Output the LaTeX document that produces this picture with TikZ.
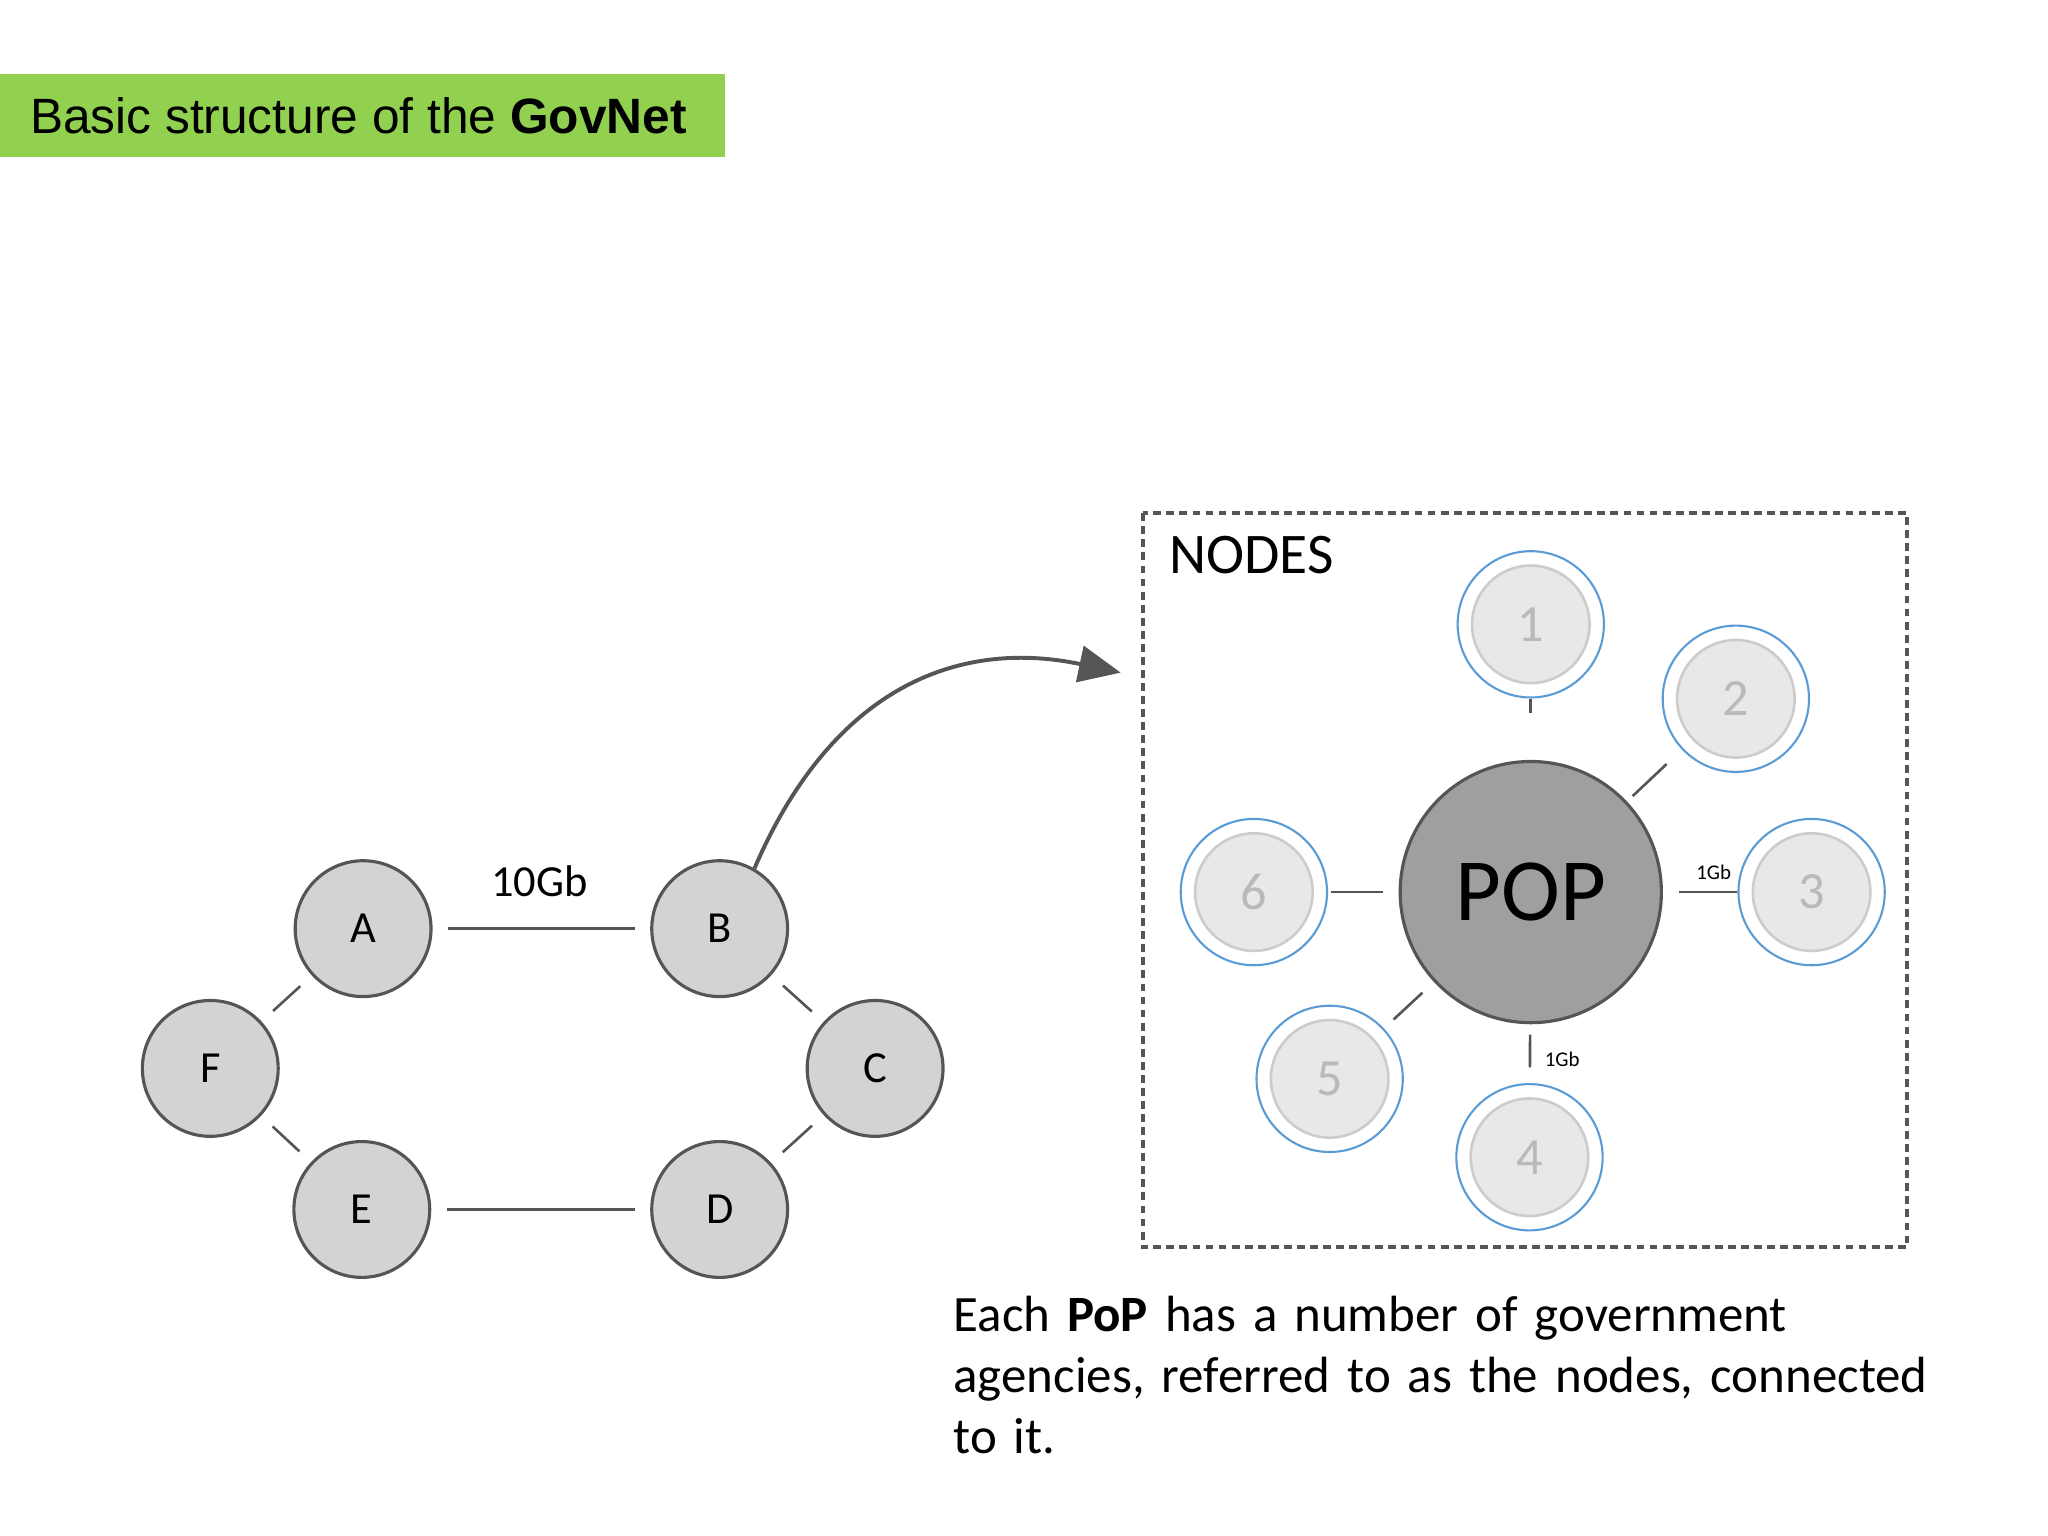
\documentclass[tikz,border=0pt]{standalone}
\usepackage{fontspec}
\setmainfont{Carlito}
\newfontfamily\titlefont{Liberation Sans}
\usetikzlibrary{arrows.meta}
\definecolor{ttl}{HTML}{92D050}
\definecolor{ringfill}{HTML}{D1D3D4}
\definecolor{dark}{HTML}{555555}
\definecolor{blu}{HTML}{5B9BD5}
\begin{document}
\begin{tikzpicture}[x=0.5pt,y=-0.5pt,
 ring/.style={circle,draw=dark,line width=1.2pt,fill=ringfill,minimum size=52pt,inner sep=0pt,font=\fontsize{17}{17}\selectfont},
 link/.style={draw=dark,line width=1pt,shorten >=6pt,shorten <=6pt},
 sat/.style={circle,draw=blu,line width=0.8pt,minimum size=56pt,inner sep=0pt},
 satin/.style={circle,draw=gray!40,line width=1pt,fill=gray!18,minimum size=45pt,inner sep=0pt,text=gray!55,font=\fontsize{20}{20}\selectfont},
 spoke/.style={draw=dark,line width=1pt,shorten >=3pt,shorten <=3pt},
 small/.style={font=\fontsize{8}{8}\selectfont}]
\useasboundingbox[fill=white] (0,0) rectangle (1568,1176);
\fill[ttl] (0,57) rectangle (555,120);
\node[anchor=west,font=\titlefont\fontsize{19}{19}\selectfont] (title) at (16,89) {Basic structure of the \textbf{GovNet}};
% ring
\node[ring] (A) at (278,711) {A};
\node[ring] (B) at (551,711) {B};
\node[ring] (C) at (670,818) {C};
\node[ring] (D) at (551,926) {D};
\node[ring] (E) at (277,926) {E};
\node[ring] (F) at (161,818) {F};
\draw[link] (A) -- (B);
\draw[link] (E) -- (D);
\draw[link] (F) -- (A);
\draw[link] (B) -- (C);
\draw[link] (C) -- (D);
\draw[link] (F) -- (E);
\node[font=\fontsize{17}{17}\selectfont] (g10) at (413,675) {10Gb};
% arrow
\coordinate (arrend) at (858,515);
\draw[dark,line width=1.5pt,-{Triangle[length=16pt,width=14pt]}] (B.60) .. controls (640,520) and (740,490) .. (arrend);
% box
\draw[dark,line width=1.5pt,dash pattern=on 3pt off 2pt] (875,393) rectangle (1460,955);
\node[anchor=west,font=\fontsize{22}{22}\selectfont] (nodes) at (888,425) {NODES};
% POP
\node[circle,draw=dark,line width=1.2pt,fill=gray!75!white,minimum size=100pt,inner sep=0pt,font=\fontsize{34}{34}\selectfont] (pop) at (1172,683) {POP};
\foreach \n/\x/\y in {1/1172/478,2/1329/535,3/1387/683,4/1171/886,5/1018/826,6/960/683}{
 \node[sat] (s\n) at (\x,\y) {};
 \node[satin] (i\n) at (\x,\y) {\n};
}
\draw[spoke,shorten >=18pt,shorten <=0pt] (s1) -- (pop);
\draw[spoke,shorten >=3pt,shorten <=8pt] (s2) -- (pop);
\draw[spoke,shorten >=6pt,shorten <=0pt] (s3) -- (pop);
\draw[spoke,shorten >=4pt,shorten <=6pt] (s4) -- (pop);
\draw[spoke,shorten >=6pt,shorten <=5pt] (s5) -- (pop);
\draw[spoke,shorten >=6pt,shorten <=1pt] (s6) -- (pop);
\node[small] (l3) at (1312,668) {1Gb};
\node[small] (l4) at (1196,811) {1Gb};
% caption
\node[anchor=north west,align=left,font=\fontsize{19.5}{23.5}\selectfont,text width=400pt] (cap) at (723,985)
 {Each \textbf{PoP} has a number of government\\agencies, referred to as the nodes, connected\\to it.};
\end{tikzpicture}
\end{document}
